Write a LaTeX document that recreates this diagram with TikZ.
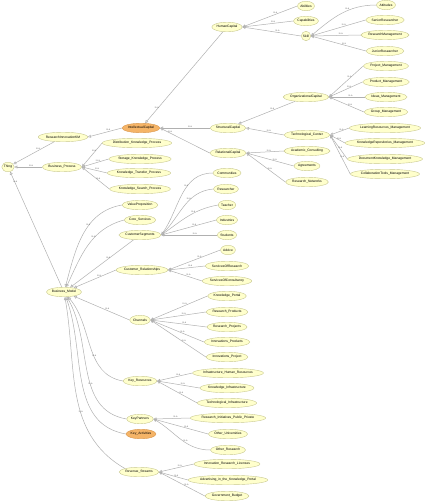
\documentclass[tikz,border=0pt]{standalone}
\usepackage{fontspec}
\setmainfont{Liberation Sans}
\usetikzlibrary{shapes.geometric,arrows.meta}
\definecolor{nodefill}{HTML}{FFFFCC}
\definecolor{nodeline}{HTML}{C8C890}
\definecolor{keyfill}{HTML}{F5B467}
\definecolor{keyline}{HTML}{D8964C}
\definecolor{edgegray}{HTML}{B0B0B0}
\begin{document}
\begin{tikzpicture}[x=1pt,y=-1pt,
	cls/.style={ellipse,draw=nodeline,fill=nodefill,line width=0.4pt,inner xsep=0.3pt,inner ysep=0pt,minimum height=9.5pt,font=\fontsize{3.3}{3.3}\selectfont},
	keycls/.style={cls,draw=keyline,fill=keyfill},
	isa/.style={draw=edgegray,line width=0.5pt,-{Triangle[open,length=3pt,width=3pt]}},
	lbl/.style={font=\fontsize{2.4}{2.4}\selectfont,text=black!60,inner sep=0.5pt,pos=0.4,above}]
\useasboundingbox (0,0) rectangle (424,504);
% left part
\node[cls] (thing) at (8,167) {Thing};
\node[cls] (rikm) at (63,137) {ResearchInnovationKM};
\node[keycls] (ic) at (141,128) {IntellectualCapital};
\node[cls] (bp) at (62,167) {Business\_Process};
\node[cls] (dist) at (137,143) {Distribution\_Knowledge\_Process};
\node[cls] (stor) at (140,159) {Storage\_Knowledge\_Process};
\node[cls] (tran) at (139,173) {Knowledge\_Transfer\_Process};
\node[cls] (srch) at (140,189) {Knowledge\_Search\_Process};
% intellectual capital
\node[cls] (hc) at (227,27) {HumanCapital};
\node[cls] (abil) at (306,6) {Abilities};
\node[cls] (capa) at (306,21) {Capabilities};
\node[cls] (skill) at (306,36) {Skill};
\node[cls] (atti) at (386,5) {Attitudes};
\node[cls] (senior) at (385,20) {SeniorResearcher};
\node[cls] (resman) at (385,35) {ResearchManagement};
\node[cls] (junior) at (385,51) {JuniorResearcher};
\node[cls] (sc) at (228,128) {StructuralCapital};
\node[cls] (oc) at (306,97) {OrganizationalCapital};
\node[cls] (projm) at (386,66) {Project\_Management};
\node[cls] (prodm) at (386,82) {Product\_Management};
\node[cls] (ideam) at (386,97) {Ideas\_Management};
\node[cls] (grpm) at (386,112) {Group\_Management};
\node[cls] (tc) at (307,135) {Technological\_Center};
\node[cls] (lrm) at (385,128) {LearningResources\_Management};
\node[cls] (krm) at (385,143) {KnowledgeRepositories\_Management};
\node[cls] (dkm) at (385,159) {DocumentKnowledge\_Management};
\node[cls] (ctm) at (385,174) {CollaborationTools\_Management};
\node[cls] (rc) at (228,153) {RelationalCapital};
\node[cls] (acon) at (307,151) {Academic\_Consulting};
\node[cls] (agree) at (307,166) {Agreements};
\node[cls] (rnet) at (307,182) {Research\_Networks};
% business model
\node[cls] (bm) at (64,292) {Business\_Model};
\node[cls] (vp) at (140,205) {ValueProposition};
\node[cls] (core) at (140,220) {Core\_Services};
\node[cls] (cs) at (140,235) {CustomerSegments};
\node[cls] (comm) at (227,173) {Communities};
\node[cls] (rsrch) at (226,189) {Researcher};
\node[cls] (teach) at (227,205) {Teacher};
\node[cls] (indu) at (227,220) {Industries};
\node[cls] (stud) at (227,235) {Students};
\node[cls] (cr) at (142,270) {Customer\_Relationships};
\node[cls] (advi) at (228,250) {Advice};
\node[cls] (sres) at (227,266) {ServicesOfResearch};
\node[cls] (scon) at (227,281) {ServicesOfConsultancy};
\node[cls] (chan) at (140,320) {Channels};
\node[cls] (kport) at (227,296) {Knowledge\_Portal};
\node[cls] (rprod) at (227,312) {Research\_Products};
\node[cls] (rproj) at (227,327) {Research\_Projects};
\node[cls] (iprod) at (227,342) {Innovations\_Products};
\node[cls] (iproj) at (227,357) {Innovations\_Project};
\node[cls] (kres) at (140,381) {Key\_Resources};
\node[cls] (ihr) at (228,373) {Infrastructure\_Human\_Resources};
\node[cls] (kinf) at (227,388) {Knowledge\_Infrastructure};
\node[cls] (tinf) at (227,403) {Technological\_Infrastructure};
\node[cls] (kpart) at (140,419) {KeyPartners};
\node[cls] (ripp) at (228,418) {Research\_Initiatives\_Public\_Private};
\node[cls] (ouni) at (228,434) {Other\_Universities};
\node[cls] (ores) at (228,450) {Other\_Research};
\node[keycls] (kact) at (141,434) {Key\_Activities};
\node[cls] (rev) at (139,472) {Revenue\_Streams};
\node[cls] (irl) at (227,464) {Innovation\_Research\_Licenses};
\node[cls] (akp) at (228,480) {Advertising\_in\_the\_Knowledge\_Portal};
\node[cls] (gov) at (227,496) {Government\_Budget};
% is-a links
\draw[isa] (rikm) -- node[lbl]{is-a} (thing);
\draw[isa] (bp) -- node[lbl]{is-a} (thing);
\draw[isa] (bm) -- node[lbl,pos=0.9]{is-a} (thing);
\draw[isa] (ic.west) -- node[lbl]{is-a} (rikm.east);
\draw[isa] (dist.west) -- node[lbl]{is-a} (bp.east);
\draw[isa] (stor.west) -- node[lbl]{is-a} (bp.east);
\draw[isa] (tran.west) -- node[lbl]{is-a} (bp.east);
\draw[isa] (srch.west) -- node[lbl]{is-a} (bp.east);
\draw[isa] (hc) -- node[lbl,pos=0.85]{is-a} (ic);
\draw[isa] (sc.west) -- node[lbl]{is-a} (ic.east);
\draw[isa] (rc.west) -- node[lbl,pos=0.8]{is-a} (ic.east);
\draw[isa] (abil.west) -- node[lbl]{is-a} (hc.east);
\draw[isa] (capa.west) -- node[lbl]{is-a} (hc.east);
\draw[isa] (skill.west) -- node[lbl]{is-a} (hc.east);
\draw[isa] (atti.west) to[out=180,in=40] node[lbl]{is-a} (skill.east);
\draw[isa] (senior.west) -- node[lbl]{is-a} (skill.east);
\draw[isa] (resman.west) -- node[lbl]{is-a} (skill.east);
\draw[isa] (junior.west) -- node[lbl]{is-a} (skill.east);
\draw[isa] (oc) -- node[lbl]{is-a} (sc);
\draw[isa] (tc.west) -- node[lbl]{is-a} (sc.east);
\draw[isa] (projm.west) -- node[lbl]{is-a} (oc.east);
\draw[isa] (prodm.west) -- node[lbl]{is-a} (oc.east);
\draw[isa] (ideam.west) -- node[lbl]{is-a} (oc.east);
\draw[isa] (grpm.west) -- node[lbl]{is-a} (oc.east);
\draw[isa] (lrm.west) -- node[lbl]{is-a} (tc.east);
\draw[isa] (krm.west) -- node[lbl]{is-a} (tc.east);
\draw[isa] (dkm.west) -- node[lbl]{is-a} (tc.east);
\draw[isa] (ctm.west) -- node[lbl]{is-a} (tc.east);
\draw[isa] (acon.west) -- node[lbl]{is-a} (rc.east);
\draw[isa] (agree.west) -- node[lbl]{is-a} (rc.east);
\draw[isa] (rnet.west) -- node[lbl]{is-a} (rc.east);
\draw[isa] (vp.west) to[out=190,in=75] node[lbl]{is-a} (bm);
\draw[isa] (core.west) to[out=195,in=65] node[lbl]{is-a} (bm);
\draw[isa] (cs) -- node[lbl]{is-a} (bm);
\draw[isa] (cr.west) -- node[lbl]{is-a} (bm);
\draw[isa] (chan.west) -- node[lbl]{is-a} (bm);
\draw[isa] (kres.west) to[out=170,in=-50] node[lbl]{is-a} (bm);
\draw[isa] (kpart.west) to[out=170,in=-60] node[lbl]{is-a} (bm);
\draw[isa] (kact.west) to[out=170,in=-70] (bm);
\draw[isa] (rev.north west) to[out=150,in=-80] node[lbl]{is-a} (bm);
\draw[isa] (comm.west) to[out=180,in=55] node[lbl]{is-a} (cs.east);
\draw[isa] (rsrch.west) to[out=185,in=45] node[lbl]{is-a} (cs.east);
\draw[isa] (teach.west) to[out=190,in=35] node[lbl]{is-a} (cs.east);
\draw[isa] (indu.west) -- node[lbl]{is-a} (cs.east);
\draw[isa] (stud.west) -- node[lbl]{is-a} (cs.east);
\draw[isa] (advi.west) -- node[lbl]{is-a} (cr.east);
\draw[isa] (sres.west) -- node[lbl]{is-a} (cr.east);
\draw[isa] (scon.west) -- node[lbl]{is-a} (cr.east);
\draw[isa] (kport.west) -- node[lbl]{is-a} (chan.east);
\draw[isa] (rprod.west) -- node[lbl]{is-a} (chan.east);
\draw[isa] (rproj.west) -- node[lbl]{is-a} (chan.east);
\draw[isa] (iprod.west) -- node[lbl]{is-a} (chan.east);
\draw[isa] (iproj.west) -- node[lbl]{is-a} (chan.east);
\draw[isa] (ihr.west) -- node[lbl]{is-a} (kres.east);
\draw[isa] (kinf.west) -- node[lbl]{is-a} (kres.east);
\draw[isa] (tinf.west) -- node[lbl]{is-a} (kres.east);
\draw[isa] (ripp.west) -- node[lbl]{is-a} (kpart.east);
\draw[isa] (ouni.west) -- node[lbl]{is-a} (kpart.east);
\draw[isa] (ores.west) to[out=180,in=-30] node[lbl]{is-a} (kpart.east);
\draw[isa] (irl.west) -- node[lbl]{is-a} (rev.east);
\draw[isa] (akp.west) -- node[lbl]{is-a} (rev.east);
\draw[isa] (gov.west) -- node[lbl]{is-a} (rev.east);
\end{tikzpicture}
\end{document}
